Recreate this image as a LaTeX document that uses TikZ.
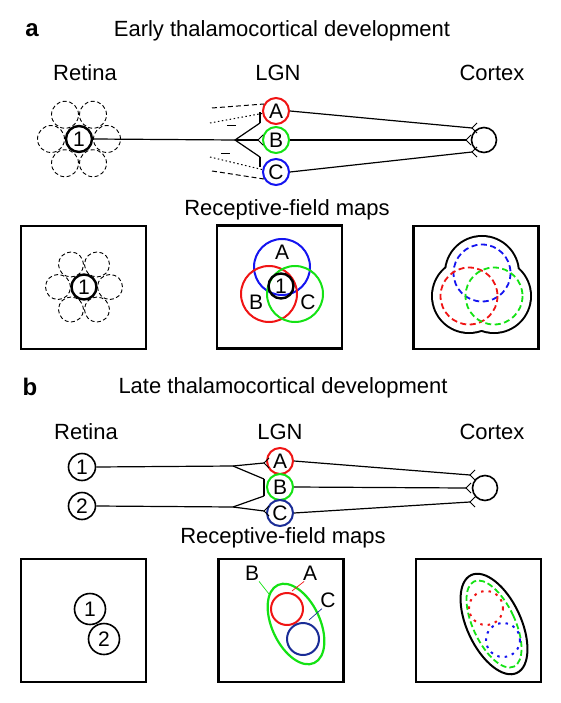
\documentclass[tikz,border=0pt]{standalone}
\usepackage{fontspec}
\setmainfont{Liberation Sans}
\usetikzlibrary{calc}
\definecolor{rfred}{RGB}{240,20,20}
\definecolor{rfgreen}{RGB}{20,226,20}
\definecolor{rfblue}{RGB}{20,20,240}
\definecolor{rfnavy}{RGB}{26,44,150}

\begin{document}
\begin{tikzpicture}[x=1pt,y=-1pt,
    cell/.style={circle,draw,line width=2pt,inner sep=0pt,minimum size=26pt,font=\fontsize{21}{21}\selectfont},
    ghost/.style={circle,draw,line width=0.9pt,dash pattern=on 4pt off 2.5pt,inner sep=0pt,minimum size=27pt},
    field/.style={circle,line width=2pt,inner sep=0pt,minimum size=56pt},
    axon/.style={line width=1.2pt},
    weak/.style={line width=1pt},
    caption/.style={font=\fontsize{22}{22}\selectfont,anchor=base},
    panel/.style={font=\bfseries\fontsize{24}{24}\selectfont,anchor=base},
    rftext/.style={font=\fontsize{21}{21}\selectfont,inner sep=1pt},
    rfbox/.style={draw,line width=2.6pt,minimum width=125pt,minimum height=123pt,inner sep=0pt},
    bouton/.pic={\draw[line width=1pt] (5,-5) -- (0,0) -- (5,5);}]
    \useasboundingbox (0,0) rectangle (560,703);

    \node[panel] (pa) at (32,37) {a};
    \node[caption] (ta) at (282,37) {Early thalamocortical development};
    \node[caption] (reta) at (85,81) {Retina};
    \node[caption] (lgna) at (278,81) {LGN};
    \node[caption] (ctxa) at (492,81) {Cortex};

    \foreach \ang in {0,60,...,300}
        \node[ghost] (g\ang) at ($(79,139)+(\ang:28)$) {};
    \node[cell,line width=2.4pt] (r1) at (79,139) {1};
    \node[cell,draw=rfred] (la) at (276,111) {A};
    \node[cell,draw=rfgreen] (lb) at (276,140) {B};
    \node[cell,draw=rfblue] (lc) at (276,172) {C};
    \node[cell,line width=1.6pt,minimum size=25pt] (cx) at (484,140) {};

    \coordinate (fork) at (235,140);
    \coordinate (ta1) at (260,123);
    \coordinate (ta2) at (260,112);
    \coordinate (tb1) at (258,140);
    \coordinate (tc1) at (260,157);
    \coordinate (tc2) at (260,167);
    \draw[axon] (r1.east) -- (fork);
    \draw[axon] (ta1) -- (fork) -- (tc1);
    \draw[axon] (fork) -- (tb1);
    \draw[line width=1.6pt] (ta1) -- (ta2);
    \draw[line width=1.6pt] (tc1) -- (tc2);
    \pic at (tb1) {bouton};

    \coordinate (wa1) at (212,108);
    \coordinate (wa2) at (210,123);
    \coordinate (wa3) at (227,126);
    \coordinate (wa4) at (236,126);
    \coordinate (wc1) at (212,171);
    \coordinate (wc2) at (210,157);
    \coordinate (wc3) at (221,154);
    \coordinate (wc4) at (230,154);
    \draw[weak,dash pattern=on 5pt off 3pt] (wa1) -- (la.150);
    \draw[weak,dash pattern=on 1.5pt off 2.5pt] (wa2) -- (la.190);
    \draw[weak] (wa3) -- (wa4);
    \draw[weak,dash pattern=on 5pt off 3pt] (wc1) -- (lc.210);
    \draw[weak,dash pattern=on 1.5pt off 2.5pt] (wc2) -- (lc.170);
    \draw[weak] (wc3) -- (wc4);

    \coordinate (ea) at (472,128);
    \coordinate (eb) at (466,140);
    \coordinate (ec) at (472,152);
    \draw[axon] (la.east) -- (ea);
    \draw[axon] (lb.east) -- (eb);
    \draw[axon] (lc.east) -- (ec);
    \pic at (ea) {bouton};
    \pic at (eb) {bouton};
    \pic at (ec) {bouton};

    \node[caption] (rfa) at (287,215) {Receptive-field maps};
    \node[rfbox] (m1) at (83.5,287.5) {};
    \node[rfbox] (m2) at (279.5,287) {};
    \node[rfbox] (m3) at (476,287.5) {};

    \foreach \ang in {0,60,...,300}
        \node[ghost,minimum size=25pt] (h\ang) at ($(84,287)+(\ang:26)$) {};
    \node[cell,line width=2.4pt,minimum size=25pt] (f1) at (84,287) {1};

    \node[field,draw=rfblue] (fa) at (282,267) {};
    \node[field,draw=rfred] (fb) at (269,294) {};
    \node[field,draw=rfgreen] (fc) at (295,294) {};
    \node[cell,line width=2.4pt,minimum size=25pt] (f1b) at (281,286) {1};
    \node[rftext] (xa) at (282,252) {A};
    \node[rftext] (xb) at (256,302) {B};
    \node[rftext] (xc) at (308,302) {C};

    \coordinate (ua) at (482,273);
    \coordinate (ub) at (469,296);
    \coordinate (uc) at (494,296);
    \draw[line width=4pt] (ua) circle (36) (ub) circle (36) (uc) circle (36);
    \fill[white] (ua) circle (36) (ub) circle (36) (uc) circle (36);
    \draw[rfblue,line width=1.8pt,dash pattern=on 6pt off 3.5pt] (ua) circle (28.5);
    \draw[rfred,line width=1.8pt,dash pattern=on 6pt off 3.5pt] (ub) circle (28.5);
    \draw[rfgreen,line width=1.8pt,dash pattern=on 6pt off 3.5pt] (uc) circle (28.5);

    \node[panel] (pb) at (30,395) {b};
    \node[caption] (tb) at (283,393) {Late thalamocortical development};
    \node[caption] (retb) at (86,439) {Retina};
    \node[caption] (lgnb) at (280,439) {LGN};
    \node[caption] (ctxb) at (492,439) {Cortex};

    \node[cell,line width=1.6pt,minimum size=27pt] (s1) at (82,467) {1};
    \node[cell,line width=1.6pt,minimum size=27pt] (s2) at (82,506) {2};
    \node[cell,draw=rfred] (na) at (280,461) {A};
    \node[cell,draw=rfgreen] (nb) at (280,487) {B};
    \node[cell,draw=rfnavy] (nc) at (280,513) {C};
    \node[cell,line width=1.6pt,minimum size=25pt] (cy) at (485,488) {};

    \coordinate (fk1) at (233,466);
    \coordinate (fk2) at (233,507);
    \coordinate (na1) at (264,463);
    \coordinate (nb1) at (264,479);
    \coordinate (nb2) at (264,496);
    \coordinate (nc1) at (264,511);
    \draw[axon] (s1.east) -- (fk1) -- (na1);
    \draw[axon] (fk1) -- (nb1);
    \draw[axon] (s2.east) -- (fk2) -- (nc1);
    \draw[axon] (fk2) -- (nb2);
    \draw[line width=1.5pt] (nb1) -- (nb2);
    \pic at (na1) {bouton};
    \pic at (nc1) {bouton};

    \coordinate (eb1) at (470,475);
    \coordinate (eb2) at (466,488);
    \coordinate (eb3) at (470,502);
    \draw[axon] (na.east) -- (eb1);
    \draw[axon] (nb.east) -- (eb2);
    \draw[axon] (nc.east) -- (eb3);
    \pic at (eb1) {bouton};
    \pic at (eb2) {bouton};
    \pic at (eb3) {bouton};

    \node[caption] (rfb) at (283,543) {Receptive-field maps};
    \node[rfbox] (n1) at (83.5,620.5) {};
    \node[rfbox] (n2) at (281,620.5) {};
    \node[rfbox] (n3) at (478.5,620.5) {};

    \node[cell,line width=1.6pt,minimum size=31pt] (q1) at (90,609) {1};
    \node[cell,line width=1.6pt,minimum size=31pt] (q2) at (104,639) {2};

    \coordinate (eg) at (296,624);
    \draw[rfgreen,line width=2.2pt,rotate around={25:(eg)}] (eg) ellipse [x radius=24, y radius=43];
    \node[circle,draw=rfred,line width=2pt,minimum size=32pt] (pr) at (287,609) {};
    \node[circle,draw=rfnavy,line width=2pt,minimum size=32pt] (pn) at (303,639) {};
    \node[rftext] (kb) at (252,573) {B};
    \node[rftext] (ka) at (310,573) {A};
    \node[rftext] (kc) at (328,600) {C};
    \coordinate (lg) at (269,594);
    \coordinate (lr) at (292,591);
    \coordinate (ln) at (309,620);
    \draw[rfgreen,line width=0.7pt] (kb.-50) -- (lg);
    \draw[rfred,line width=0.7pt] (ka.235) -- (lr);
    \draw[rfnavy,line width=0.7pt] (kc.235) -- (ln);

    \coordinate (eo) at (494,624);
    \draw[line width=2pt,rotate around={25:(eo)}] (eo) ellipse [x radius=27, y radius=54];
    \draw[rfgreen,line width=1.8pt,dash pattern=on 6pt off 3pt,rotate around={25:(eo)}] (eo) ellipse [x radius=21, y radius=47];
    \draw[rfred,line width=2pt,dash pattern=on 2.5pt off 5pt] (486,608) circle (17);
    \draw[rfblue,line width=2pt,dash pattern=on 2.5pt off 5pt] (503,640) circle (17);
\end{tikzpicture}
\end{document}
